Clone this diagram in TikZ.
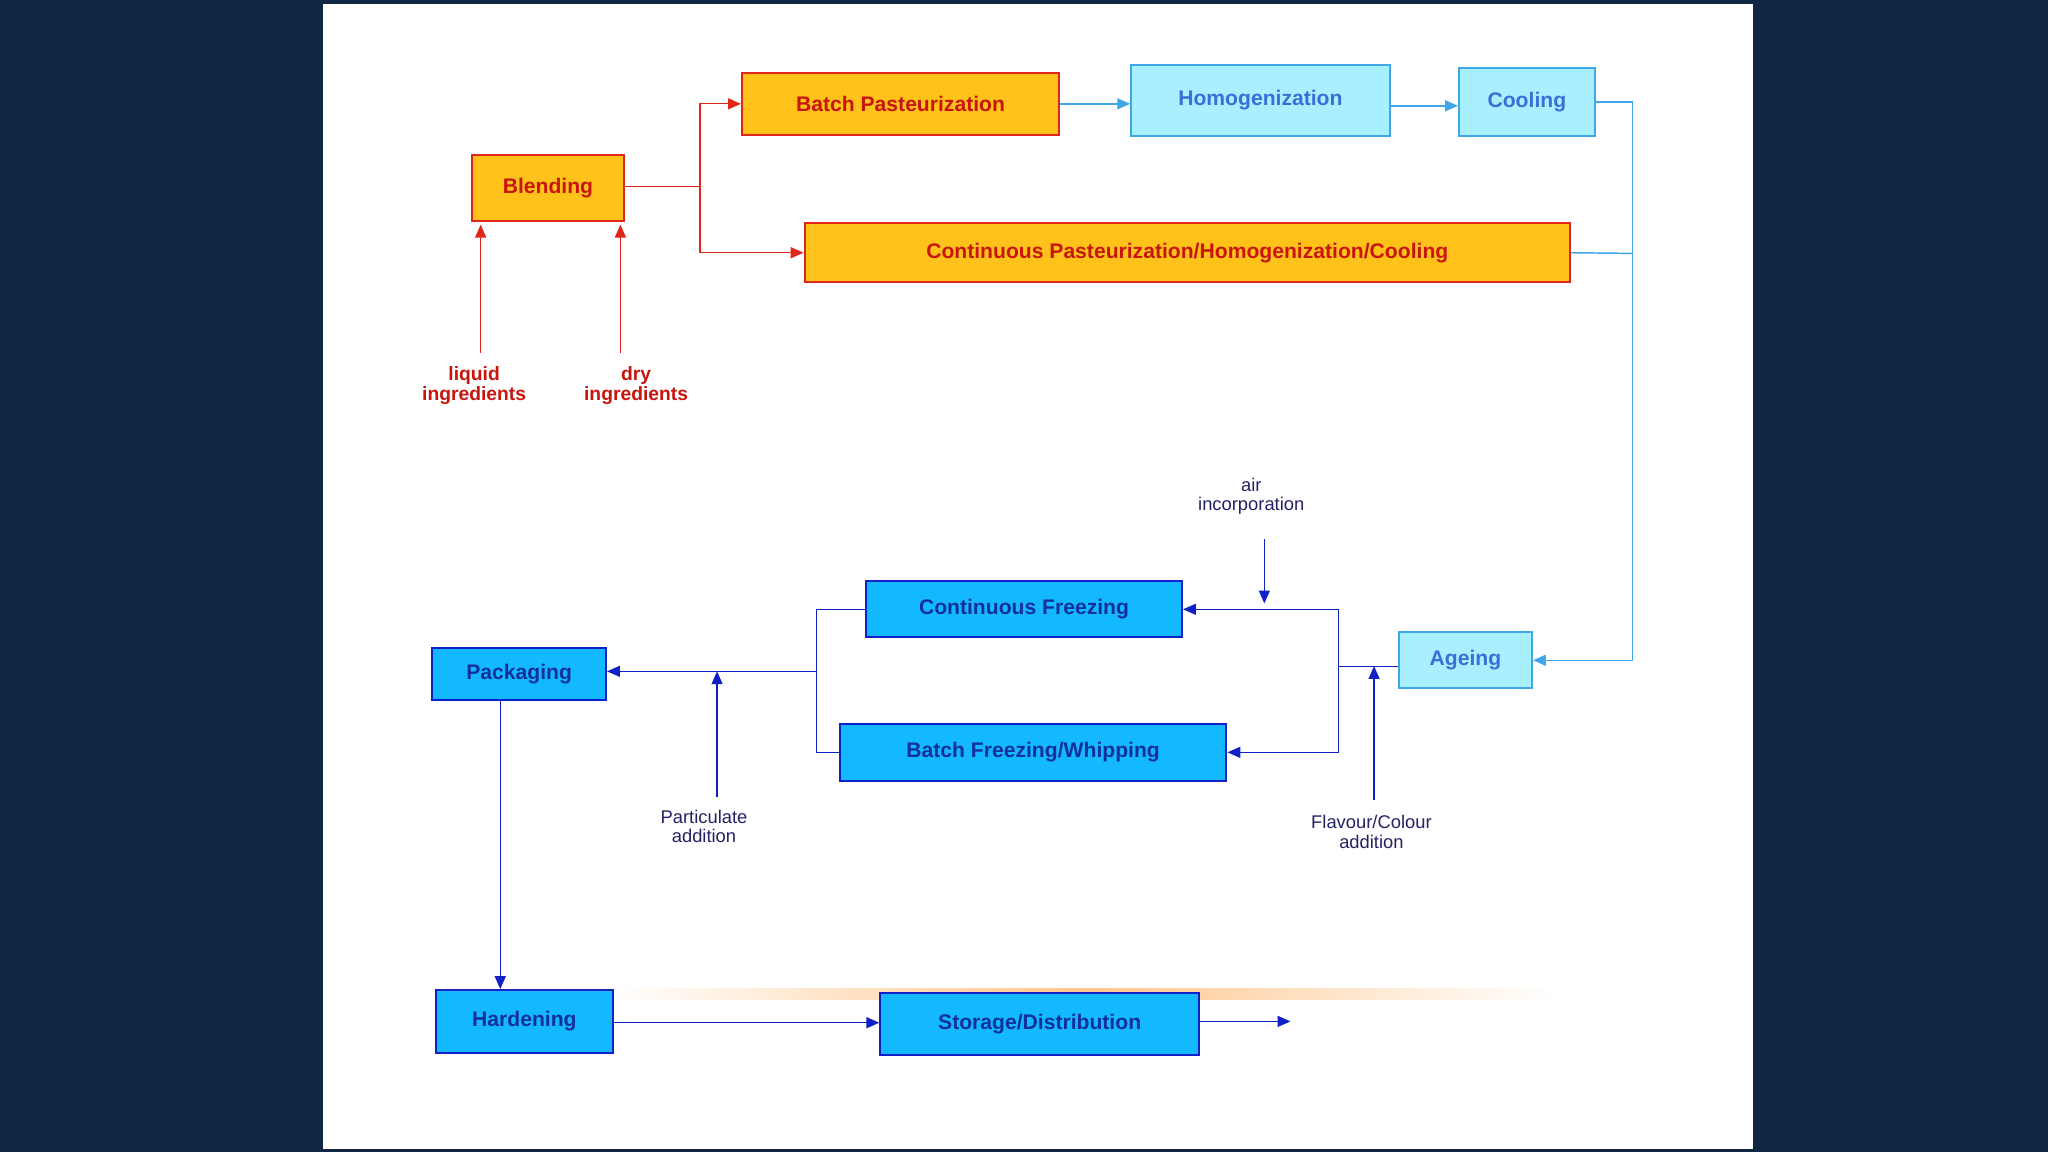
\documentclass[tikz,border=0pt]{standalone}
\usepackage{fontspec}
\setmainfont{Liberation Sans}
\usetikzlibrary{arrows.meta}
\definecolor{navy}{HTML}{0F2744}
\definecolor{org}{HTML}{FFC21A}
\definecolor{redb}{HTML}{E0261A}
\definecolor{redt}{HTML}{C8160E}
\definecolor{lcy}{HTML}{A8F0FF}
\definecolor{lcyb}{HTML}{3FA6E8}
\definecolor{lcyt}{HTML}{3A6FD8}
\definecolor{dcy}{HTML}{14B8FF}
\definecolor{dcyb}{HTML}{1020C8}
\definecolor{dcyt}{HTML}{10309C}
\definecolor{lbl}{HTML}{222266}
\begin{document}
\begin{tikzpicture}[x=0.05cm,y=-0.05cm,
  box/.style={draw,line width=2.2pt,inner sep=0,font=\fontsize{23}{26}\selectfont\bfseries},
  rbox/.style={box,fill=org,draw=redb,text=redt},
  lbox/.style={box,fill=lcy,draw=lcyb,text=lcyt},
  dbox/.style={box,fill=dcy,draw=dcyb,text=dcyt},
  rl/.style={draw=redb,line width=1.3pt},
  ll/.style={draw=lcyb,line width=1.6pt},
  dl/.style={draw=dcyb,line width=1.3pt},
  tip/.style={-{Triangle[length=14pt,width=12pt]}},
  lab/.style={align=center,font=\fontsize{20}{21}\selectfont,text=lbl,inner sep=0},
  rlab/.style={align=center,font=\fontsize{21}{22}\selectfont\bfseries,text=redt,inner sep=0}]
\fill[navy] (0,0) rectangle (1568,882);
\fill[white] (247,3) rectangle (1342,880);
\useasboundingbox (0,0) rectangle (1568,882);
\shade[left color=white,right color=white,middle color=orange!45] (470,757) rectangle (1190,765);
% boxes
\node[rbox,minimum width=117*0.05cm,minimum height=50*0.05cm] (blend) at (419.5,144) {Blending};
\node[rbox,minimum width=243*0.05cm,minimum height=47*0.05cm] (bp) at (689.5,79.5) {Batch Pasteurization};
\node[lbox,minimum width=198*0.05cm,minimum height=54*0.05cm] (hom) at (965,77) {Homogenization};
\node[lbox,minimum width=104*0.05cm,minimum height=52*0.05cm] (cool) at (1169,78) {Cooling};
\node[rbox,minimum width=586*0.05cm,minimum height=45*0.05cm] (cph) at (909,193.5) {Continuous Pasteurization/Homogenization/Cooling};
\node[lbox,minimum width=102*0.05cm,minimum height=43*0.05cm] (age) at (1122,505.5) {Ageing};
\node[dbox,minimum width=242*0.05cm,minimum height=43*0.05cm] (cf) at (784,466.5) {Continuous Freezing};
\node[dbox,minimum width=296*0.05cm,minimum height=44*0.05cm] (bf) at (791,576) {Batch Freezing/Whipping};
\node[dbox,minimum width=133*0.05cm,minimum height=40*0.05cm] (pack) at (397.5,516) {Packaging};
\node[dbox,minimum width=135*0.05cm,minimum height=48*0.05cm] (hard) at (401.5,782) {Hardening};
\node[dbox,minimum width=244*0.05cm,minimum height=48*0.05cm] (stor) at (796,784) {Storage/Distribution};
% labels
\node[rlab] (liq) at (363,295) {liquid\\ingredients};
\node[rlab] (dry) at (487,295) {dry\\ingredients};
\node[lab] (air) at (958,380) {air\\incorporation};
\node[lab] (flav) at (1050,637) {Flavour/Colour\\addition};
\node[lab] (part) at (539,633) {Particulate\\addition};
\coordinate (sp) at (536,143);
\coordinate (cj) at (1250,194);
\coordinate (aj) at (1025,510);
\coordinate (fj) at (625,514);
\coordinate (end) at (988,782);
% red
\draw[rl] (blend.east|-sp) -- (sp);
\draw[rl,tip] (sp) |- (bp.west);
\draw[rl,tip] (sp) |- (cph.west);
\draw[rl,tip] (liq.north-|368,0) ++(0,-10) -- (368,172);
\draw[rl,tip] (dry.north-|475,0) ++(0,-10) -- (475,172);
% light blue
\draw[ll,tip] (bp.east) -- (hom.west|-bp.east);
\draw[ll,tip] (hom.east|-81,81) -- (cool.west|-81,81);
\draw[ll,tip] (cool.east) -- (1250,78) |- (age.east);
\draw[ll] (cph.east) -- (cj);
% dark blue
\draw[dl] (age.west|-aj) -- (aj);
\draw[dl,tip] (aj) |- (cf.east);
\draw[dl,tip] (aj) |- (bf.east);
\draw[dl,tip] (968,413) -- (968,462);
\draw[dl,tip] (flav.north-|1052,0) ++(0,-12) -- (1052,510);
\draw[dl] (cf.west) -| (fj) |- (bf.west);
\draw[dl,tip] (fj) -- (pack.east|-fj);
\draw[dl,tip] (part.north-|549,0) ++(0,-10) -- (549,514);
\draw[dl,tip] (pack.south-|383,0) -- (hard.north-|383,0);
\draw[dl,tip] (hard.east|-0,783) -- (stor.west|-0,783);
\draw[dl,tip] (stor.east|-end) -- (end);
\end{tikzpicture}
\end{document}
